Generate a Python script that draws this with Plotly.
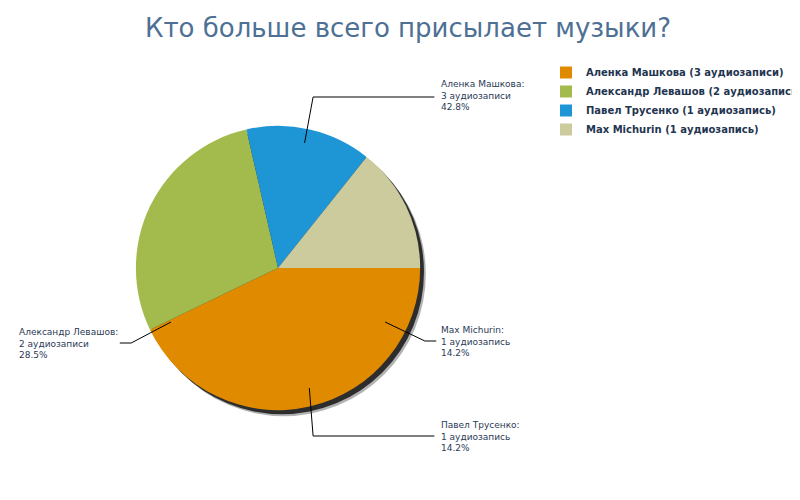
import plotly.graph_objects as go

names = ['Аленка Машкова', 'Александр Левашов', 'Павел Трусенко', 'Max Michurin']
counts = [3, 2, 1, 1]
count_text = ['3 аудиозаписи', '2 аудиозаписи', '1 аудиозапись', '1 аудиозапись']
percents = ['42.8%', '28.5%', '14.2%', '14.2%']
colors = ['#e08a00', '#a3bb4c', '#1e96d6', '#cbcb9e']

W, H = 800, 500
cx, cy, r = 285, 260, 150

def px(x):
    return x / W

def py(y):
    return 1 - y / H

fig = go.Figure()

# shadow
fig.add_trace(go.Pie(values=[1], marker=dict(colors=['rgba(0,0,0,0.3)']),
                     textinfo='none', hoverinfo='skip', showlegend=False, sort=False,
                     domain=dict(x=[px(cx - r + 6), px(cx + r + 6)], y=[py(cy + r + 6), py(cy - r + 6)])))
fig.add_trace(go.Pie(values=[1], marker=dict(colors=['rgba(0,0,0,0.75)']),
                     textinfo='none', hoverinfo='skip', showlegend=False, sort=False,
                     domain=dict(x=[px(cx - r + 4), px(cx + r + 4)], y=[py(cy + r + 4), py(cy - r + 4)])))

fig.add_trace(go.Pie(
    labels=[f'{n} ({c})' for n, c in zip(names, count_text)],
    values=counts, sort=False, direction='clockwise', rotation=90,
    marker=dict(colors=colors), textinfo='none',
    domain=dict(x=[px(cx - r), px(cx + r)], y=[py(cy + r), py(cy - r)]),
))

label_pos = [(455, 88), (10, 335), (455, 428), (455, 333)]
lines = [
    [(313, 135), (322, 89), (450, 89)],
    [(172, 314), (130, 335), (118, 335)],
    [(318, 380), (322, 428), (450, 428)],
    [(398, 314), (440, 333), (452, 333)],
]
for i, n in enumerate(names):
    x, y = label_pos[i]
    fig.add_annotation(x=px(x), y=py(y), xref='paper', yref='paper', xanchor='left', yanchor='middle',
                       text=f'{n}:<br>{count_text[i]}<br>{percents[i]}', align='left', showarrow=False,
                       font=dict(size=9, color='#2b3a55', family='DejaVu Sans'))
    pts = lines[i]
    for (x0, y0), (x1, y1) in zip(pts[:-1], pts[1:]):
        fig.add_shape(type='line', xref='paper', yref='paper', x0=px(x0), y0=py(y0), x1=px(x1), y1=py(y1),
                      line=dict(color='black', width=1))

fig.update_layout(
    width=W, height=H, margin=dict(l=0, r=0, t=0, b=0),
    paper_bgcolor='white', plot_bgcolor='white',
    title=dict(text='Кто больше всего присылает музыки?', x=0.5, xanchor='center',
               y=py(20), yanchor='middle',
               font=dict(size=26, color='#4d7094', family='DejaVu Sans')),
    legend=dict(x=px(568), y=py(50), xanchor='left', yanchor='top',
                font=dict(size=10, color='#1f3550', family='DejaVu Sans', weight='bold')),
)
fig.write_html('out.html')
